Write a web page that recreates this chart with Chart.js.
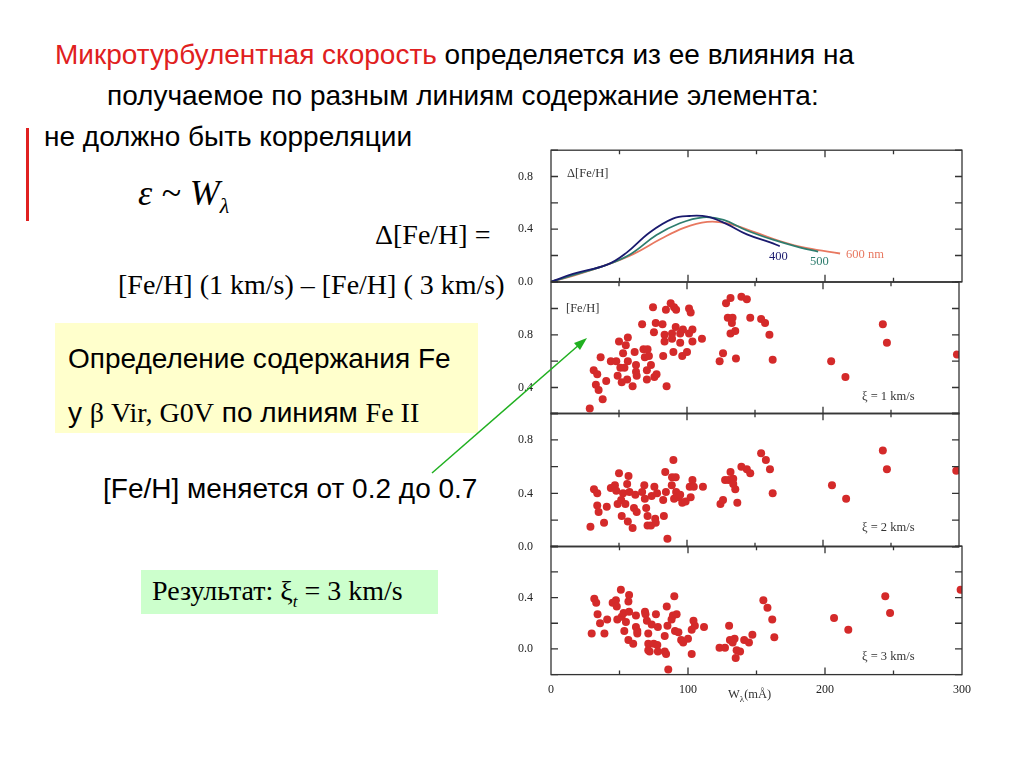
<!DOCTYPE html>
<html><head><meta charset="utf-8">
<script src="https://cdn.jsdelivr.net/npm/chart.js"></script>
<style>
body{margin:0;width:1024px;height:768px;background:#fff;position:relative;overflow:hidden;font-family:"Liberation Sans",Arial,sans-serif;}
.t{position:absolute;white-space:nowrap;font-size:28px;color:#000;}
.s{font-family:"Liberation Serif","Times New Roman",serif;}
.p{position:absolute;font-family:"Liberation Serif",serif;font-size:12.5px;color:#333;white-space:nowrap;}
.c{position:absolute;left:500px;width:463px;}
</style></head><body>
<div style="position:absolute;left:26px;top:128px;width:3px;height:93px;background:#e02020"></div>
<div class="t" style="left:55px;top:39px"><span style="color:#e02020">Микротурбулентная скорость</span> определяется из ее влияния на</div>
<div class="t" style="left:107px;top:80px">получаемое по разным линиям содержание элемента:</div>
<div class="t" style="left:44px;top:121px">не должно быть корреляции</div>
<div class="t s" style="left:138px;top:172px;font-size:36px;font-style:italic">ε ~ W<sub style="font-size:22px">λ</sub></div>
<div class="t s" style="left:375px;top:219px;font-size:28px">Δ[Fe/H] =</div>
<div class="t s" style="left:118px;top:269px;font-size:28px">[Fe/H] (1 km/s) – [Fe/H] ( 3 km/s)</div>
<div style="position:absolute;left:55px;top:323px;width:423px;height:110px;background:#ffffcc"></div>
<div class="t" style="left:68px;top:343px">Определение содержания Fe</div>
<div class="t" style="left:68px;top:397px">у <span class="s">β Vir, G0V</span> по линиям <span class="s">Fe II</span></div>
<div class="t" style="left:103px;top:473px">[Fe/H] меняется от 0.2 до 0.7</div>
<div style="position:absolute;left:141px;top:570px;width:297px;height:44px;background:#ccffcc"></div>
<div class="t s" style="left:152px;top:575px;font-size:28px">Результат: ξ<sub style="font-size:17px;font-style:italic">t</sub> = 3 km/s</div>

<div class="c" style="top:133px;height:166px"><canvas id="c1"></canvas></div>
<div class="c" style="top:265px;height:166px"><canvas id="c2"></canvas></div>
<div class="c" style="top:396px;height:168px"><canvas id="c3"></canvas></div>
<div class="c" style="top:529px;height:169px;width:471px"><canvas id="c4"></canvas></div>

<div class="p" style="left:567px;top:166px">Δ[Fe/H]</div>
<div class="p" style="left:566px;top:301px">[Fe/H]</div>
<div class="p" style="left:862px;top:389px">ξ = 1 km/s</div>
<div class="p" style="left:862px;top:520px">ξ = 2 km/s</div>
<div class="p" style="left:862px;top:649px">ξ = 3 km/s</div>
<div class="p" style="left:769px;top:249px;color:#1a1a6e">400</div>
<div class="p" style="left:810px;top:254px;color:#2e7d6e">500</div>
<div class="p" style="left:846px;top:247px;color:#e87860">600 nm</div>
<div class="p" style="left:728px;top:687px">W<sub style="font-size:9px">λ</sub>(mÅ)</div>
<svg style="position:absolute;left:0;top:0" width="1024" height="768">
<line x1="432" y1="473" x2="580" y2="344" stroke="#20b020" stroke-width="1.5"/>
<polygon points="587,338 574,343 580,350" fill="#20b020"/>
</svg>
<script>
const curve400=[[0,0],[16,0.06],[41,0.13],[55,0.22],[72,0.375],[89,0.48],[101,0.5],[114,0.495],[128,0.44],[143,0.36],[160,0.30],[167,0.27]];
const curve500=[[0,0],[16,0.05],[41,0.13],[58,0.21],[77,0.355],[94,0.445],[111,0.49],[126,0.47],[143,0.39],[162,0.32],[182,0.26],[195,0.23]];
const curve600=[[0,0],[16,0.045],[41,0.13],[60,0.21],[80,0.325],[97,0.41],[114,0.455],[128,0.445],[148,0.38],[167,0.31],[187,0.255],[211,0.215]];
const xi1=[[28.5,0.24],[31.4,0.53],[34,0.50],[33,0.42],[35,0.38],[36.5,0.63],[38,0.31],[40.6,0.45],[44,0.60],[48,0.60],[49,0.49],[50,0.75],[51,0.55],[52,0.44],[53,0.66],[54,0.55],[55,0.72],[56,0.46],[56.5,0.78],[56.5,0.60],[60,0.41],[61.5,0.67],[62.5,0.57],[62.5,0.52],[63,0.49],[67,0.88],[68,0.69],[69,0.63],[70.5,0.53],[70.5,0.46],[71,0.69],[72,0.64],[73.5,0.57],[75,1.01],[75.7,0.82],[76,0.48],[77,0.89],[77.6,0.50],[82,0.88],[82.5,0.64],[83.5,0.80],[83.5,0.75],[85,0.41],[84.5,0.99],[88,1.04],[89,0.81],[89,0.77],[90,0.67],[90.5,1.01],[92,0.99],[91.7,0.86],[95,0.74],[95,0.81],[96.5,0.64],[97,0.84],[100,0.67],[101.5,0.81],[101.5,1.0],[102.7,0.97],[104,0.84],[104,0.75],[111,0.77],[124,0.60],[126.5,0.66],[128.7,1.04],[132,1.08],[130,0.93],[133.5,0.93],[133,0.89],[132,0.81],[135.5,0.83],[136,0.62],[140,1.09],[144,1.07],[146.5,0.93],[154.5,0.92],[157.4,0.89],[160.6,0.80],[163,0.61],[206,0.60],[216.5,0.48],[244,0.88],[247,0.74],[298.5,0.65]];
const xi2=[[29,0.15],[31.6,0.43],[34,0.40],[34,0.31],[35,0.26],[39,0.18],[41,0.30],[44,0.44],[47,0.46],[48,0.42],[50,0.55],[49,0.32],[51.6,0.35],[52,0.23],[53,0.40],[54.7,0.32],[56,0.47],[56.5,0.19],[57,0.53],[57.7,0.41],[60,0.14],[61,0.29],[62,0.39],[63,0.26],[67,0.41],[68.6,0.46],[69,0.36],[70,0.29],[71,0.23],[71,0.16],[73.5,0.16],[74,0.38],[76,0.45],[76.6,0.21],[77,0.18],[78,0.40],[82.5,0.35],[83,0.23],[84,0.56],[84.5,0.41],[85.6,0.06],[88.8,0.46],[89,0.52],[90,0.65],[90.5,0.36],[91.7,0.52],[92,0.41],[94,0.37],[95,0.39],[96.5,0.33],[99,0.34],[102,0.45],[102.7,0.37],[104,0.50],[105,0.45],[111.7,0.45],[124.6,0.32],[126.5,0.35],[128,0.50],[130.6,0.50],[132,0.56],[134,0.51],[134,0.47],[135.5,0.43],[137,0.33],[140,0.60],[144,0.58],[146.5,0.55],[154.5,0.70],[158,0.65],[161,0.58],[163,0.40],[206.6,0.46],[217,0.36],[244,0.72],[247,0.58],[298,0.57]];
const xi3=[[29.7,0.12],[31.6,0.39],[33,0.36],[34,0.27],[35.8,0.20],[39,0.12],[41,0.23],[45,0.36],[47.4,0.38],[48,0.33],[48.4,0.23],[51,0.46],[51.6,0.25],[53,0.28],[53.5,0.14],[54.7,0.21],[56.5,0.07],[56.5,0.37],[57,0.42],[57,0.29],[60,0.04],[62,0.26],[62,0.17],[63,0.12],[63,0.14],[68.6,0.29],[69,0.27],[70,0.22],[71,0.12],[71,0.04],[71,-0.01],[72,-0.02],[73.5,0.19],[75,0.04],[76.6,0.27],[77.6,0.03],[78,-0.02],[78,0.17],[83,-0.02],[83,0.10],[84,-0.04],[84.5,0.33],[85,0.18],[85.6,-0.16],[88,0.23],[89,0.26],[90,0.41],[90.5,0.14],[91.7,0.27],[93,0.13],[95,0.07],[96.5,0.05],[100,0.08],[102.7,-0.04],[102.7,0.15],[104,0.22],[105,0.18],[111.7,0.17],[123,0.01],[127,0.01],[130,0.18],[130.6,0.07],[132.6,0.05],[134,0.08],[134.8,-0.07],[135.5,-0.01],[138,-0.02],[141,0.07],[144.5,0.05],[147,0.11],[155,0.38],[158,0.32],[161.5,0.23],[163,0.09],[206.6,0.24],[217,0.15],[244,0.41],[247.5,0.28],[299,0.46]];
const xTicks=[0,100,200,300];

const pts=a=>a.map(([x,y])=>({x,y}));
const frame={id:'frame',afterDraw(ch){
  const c=ch.ctx,a=ch.chartArea,xs=ch.scales.x,ys=ch.scales.y;
  c.save();c.strokeStyle='#333';c.lineWidth=1.3;
  c.strokeRect(a.left,a.top,a.right-a.left,a.bottom-a.top);
  for(let v=50;v<300;v+=50){const px=xs.getPixelForValue(v);const L=v%100===0?7:4;
    c.beginPath();c.moveTo(px,a.bottom);c.lineTo(px,a.bottom-L);c.moveTo(px,a.top);c.lineTo(px,a.top+L);c.stroke();}
  ys.ticks.forEach(t=>{const py=ys.getPixelForValue(t.value);
    c.beginPath();c.moveTo(a.left,py);c.lineTo(a.left+7,py);c.moveTo(a.right,py);c.lineTo(a.right-7,py);c.stroke();});
  c.restore();}};
function make(id,datasets,ymin,ymax,labels,showX,padB){
  new Chart(document.getElementById(id),{type:'scatter',data:{datasets},
   options:{responsive:true,maintainAspectRatio:false,animation:false,
    layout:{padding:{top:3,bottom:padB,right:1,left:0}},
    plugins:{legend:{display:false},tooltip:{enabled:false}},
    scales:{
     x:{type:'linear',min:0,max:300,grid:{display:false},border:{display:false},
        afterBuildTicks:s=>{s.ticks=xTicks.map(v=>({value:v}));},
        ticks:{display:showX,color:'#222',font:{family:'Liberation Serif',size:12},padding:0},display:showX?true:false},
     y:{min:ymin,max:ymax,grid:{display:false},border:{display:false},
        afterFit:s=>{s.width=51;},
        ticks:{stepSize:0.2,color:'#222',font:{family:'Liberation Serif',size:12},padding:10,
          callback:v=>labels.some(l=>Math.abs(l-v)<1e-6)?v.toFixed(1):''}}}},
   plugins:[frame]});
}
const dot=d=>({data:pts(d),pointRadius:4,pointBackgroundColor:'#d42a2a',pointBorderWidth:0});
const line=(d,col)=>({type:'line',data:pts(d),borderColor:col,borderWidth:1.8,pointRadius:0,tension:0.4,fill:false});
make('c1',[line(curve400,'#1a1a6e'),line(curve500,'#2e7d6e'),line(curve600,'#e87860')],0,1.0,[0,0.4,0.8],false,3);
make('c2',[dot(xi1)],0.2,1.2,[0.4,0.8],false,3);
make('c3',[dot(xi2)],0,1.0,[0,0.4,0.8],false,3);
make('c4',[dot(xi3)],-0.2,0.8,[0,0.4],true,1);
</script>
</body></html>
